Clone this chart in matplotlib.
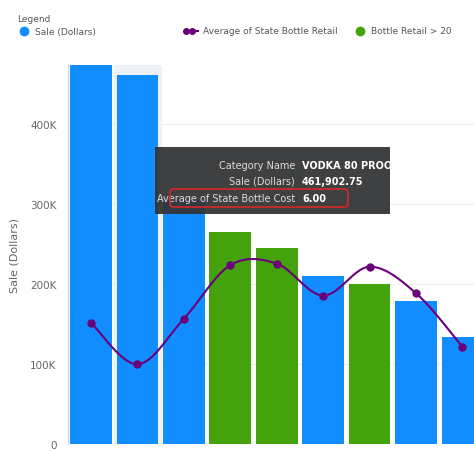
import numpy as np
import matplotlib
matplotlib.use("Agg")
import matplotlib.pyplot as plt
from matplotlib.patches import FancyBboxPatch, Circle
from matplotlib.lines import Line2D

categories = ["C1", "VODKA 80 PROOF", "C3", "C4", "C5", "C6", "C7", "C8", "C9"]
sales = [520000, 461902.75, 305000, 266000, 246000, 210000, 200000, 179000, 134000]
over20 = [False, False, False, True, True, False, True, False, False]
avg_retail = [152, 100, 157, 224, 226, 186, 222, 189, 122]

blue = "#118DFF"; green = "#44A30C"; purple = "#6B007B"

fig = plt.figure(figsize=(4.74, 4.52), dpi=100)
ax = fig.add_axes([0.143, 0.015, 0.857, 0.84])
x = np.arange(len(categories))
ax.axvspan(0.5, 1.5, color="#EEF2F8", zorder=0)
ax.bar(x, sales, width=0.9, color=[green if g else blue for g in over20], zorder=2)
ax.set_xlim(-0.5, 8.25)
ax.set_ylim(0, 475000)
ax.set_yticks([0, 100000, 200000, 300000, 400000])
ax.set_yticklabels(["0", "100K", "200K", "300K", "400K"], color="#666666", fontsize=7.5)
ax.yaxis.grid(True, color="#EEEEEE", lw=0.8, zorder=0)
ax.set_axisbelow(True)
ax.set_xticks([])
for s in ["top", "right", "bottom"]:
    ax.spines[s].set_visible(False)
ax.spines["left"].set_color("#BBD7F5")
ax.tick_params(axis="y", length=0, pad=8)
ax.set_ylabel("Sale (Dollars)", color="#666666", fontsize=8, labelpad=8)

ax2 = ax.twinx()
ax2.set_ylim(0, 475)
ax2.axis("off")
# Catmull-Rom smoothing
pts = np.column_stack([x, avg_retail]).astype(float)
P = np.vstack([pts[0], pts, pts[-1]])
cx, cy = [], []
for i in range(1, len(P) - 2):
    t = np.linspace(0, 1, 20)[:, None]
    p0, p1, p2, p3 = P[i - 1], P[i], P[i + 1], P[i + 2]
    c = 0.5 * ((2 * p1) + (-p0 + p2) * t + (2 * p0 - 5 * p1 + 4 * p2 - p3) * t**2 + (-p0 + 3 * p1 - 3 * p2 + p3) * t**3)
    cx.extend(c[:, 0]); cy.extend(c[:, 1])
ax2.plot(cx, cy, color=purple, lw=1.5, zorder=5)
ax2.plot(x, avg_retail, "o", color=purple, ms=5, zorder=6)

# tooltip
tip = FancyBboxPatch((155 / 474, 1 - 215 / 452), 235 / 474, 67 / 452, boxstyle="square,pad=0",
                     transform=fig.transFigure, fc="#333537", ec="none", alpha=0.95, zorder=10)
fig.patches.append(tip)
rows = [("Category Name", "VODKA 80 PROOF", 166), ("Sale (Dollars)", "461,902.75", 182), ("Average of State Bottle Cost", "6.00", 199)]
for k, v, yy in rows:
    fig.text(295 / 474, 1 - yy / 452, k, color="#DDDDDD", fontsize=7, ha="right", va="center", zorder=11)
    fig.text(302 / 474, 1 - yy / 452, v, color="white", fontsize=7, fontweight="bold", ha="left", va="center", zorder=11)
hl = FancyBboxPatch((170 / 474, 1 - 208 / 452), 178 / 474, 18 / 452, boxstyle="round,pad=0,rounding_size=0.008",
                    transform=fig.transFigure, fc="none", ec="#D9262B", lw=1.2, zorder=12)
fig.patches.append(hl)

# legend
fig.text(17 / 474, 1 - 19 / 452, "Legend", fontsize=6.5, color="#555555", va="center")
ly = 1 - 32 / 452
fig.add_artist(Line2D([24 / 474], [ly], marker="o", color=blue, ms=6, transform=fig.transFigure))
fig.text(35 / 474, ly, "Sale (Dollars)", fontsize=6.5, color="#555555", va="center")
fig.add_artist(Line2D([186 / 474, 198 / 474], [ly, ly], marker="o", color=purple, ms=4, lw=1.5,
                      markevery=[0], transform=fig.transFigure))
fig.add_artist(Line2D([192 / 474], [ly], marker="o", color=purple, ms=4, transform=fig.transFigure))
fig.text(203 / 474, ly, "Average of State Bottle Retail", fontsize=6.5, color="#555555", va="center")
fig.add_artist(Line2D([360 / 474], [ly], marker="o", color=green, ms=6, transform=fig.transFigure))
fig.text(371 / 474, ly, "Bottle Retail > 20", fontsize=6.5, color="#555555", va="center")

fig.savefig("out.png", dpi=100)
